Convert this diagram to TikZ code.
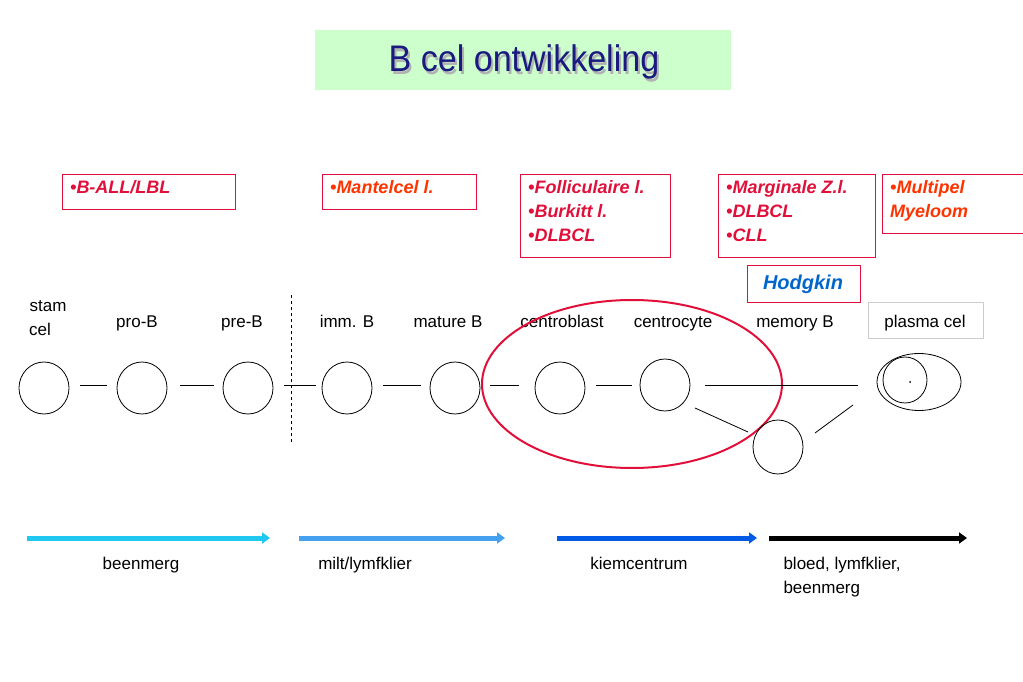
\documentclass[tikz,border=0pt]{standalone}
\usepackage{fontspec}
\setmainfont{Liberation Sans}
\usetikzlibrary{arrows.meta,shapes.geometric}
\definecolor{crim}{HTML}{E0103A}
\definecolor{ored}{HTML}{FF3300}
\definecolor{hblue}{HTML}{0066CC}
\definecolor{navy}{HTML}{1A1A80}
\begin{document}
\begin{tikzpicture}[x=1pt,y=-1pt,
  cell/.style={draw,thick,ellipse,minimum width=50pt,minimum height=52pt,inner sep=0pt},
  dbox/.style={anchor=north west,align=left,font=\fontsize{18}{24}\selectfont\bfseries\itshape,inner sep=0pt},
  lab/.style={font=\fontsize{17}{24}\selectfont,anchor=base},
  con/.style={thick},
  flow/.style={line width=5pt,-{Triangle[length=8pt,width=11pt]}}]
\useasboundingbox (0,0) rectangle (1023,682);
\node[fill=green!20,minimum width=416pt,minimum height=60pt,inner sep=0pt] (title) at (523,60) {};
\node[text=gray!60,font=\fontsize{37}{40}\selectfont,xscale=0.92] at (526,65) {B cel ontwikkeling};
\node[text=navy,font=\fontsize{37}{40}\selectfont,xscale=0.92] (tt) at (524,62) {B cel ontwikkeling};
% disease boxes
\draw[crim,thick] (62,174) rectangle (235,209);
\node[dbox,text=crim] (b1) at (70,180) {•B-ALL/LBL};
\draw[crim,thick] (322,174) rectangle (476,209);
\node[dbox,text=ored] (b2) at (330,180) {•Mantelcel l.};
\draw[crim,thick] (520,174) rectangle (670,257);
\node[dbox,text=crim] (b3) at (528,180) {•Folliculaire l.\\•Burkitt l.\\•DLBCL};
\draw[crim,thick] (718,174) rectangle (875,257);
\node[dbox,text=crim] (b4) at (726,180) {•Marginale Z.l.\\•DLBCL\\•CLL};
\draw[crim,thick] (882,174) rectangle (1030,233);
\node[dbox,text=ored] (b5) at (890,180) {•Multipel\\Myeloom};
\draw[crim,thick] (747,265) rectangle (860,302);
\node[text=hblue,font=\fontsize{20}{22}\selectfont\bfseries\itshape] (hd) at (803,284) {Hodgkin};
\draw[gray!40,thick] (868,302) rectangle (983,338);
% labels
\node[lab] (l0a) at (48,311) {stam};
\node[lab] (l0b) at (40,335) {cel};
\node[lab] (l1) at (137,327) {pro-B};
\node[lab] (l2) at (242,327) {pre-B};
\node[lab] (l3) at (347,327) {imm. B};
\node[lab] (l4) at (448,327) {mature B};
\node[lab] (l5) at (562,327) {centroblast};
\node[lab] (l6) at (673,327) {centrocyte};
\node[lab] (l7) at (795,327) {memory B};
\node[lab] (l8) at (925,327) {plasma cel};
% dashed
\draw[dashed,thick] (291,295) -- (291,443);
% red ellipse
\draw[crim,line width=2pt] (632,384) ellipse [x radius=150,y radius=84];
% cells
\node[cell] (c0) at (44,388) {};
\node[cell] (c1) at (142,388) {};
\node[cell] (c2) at (248,388) {};
\node[cell] (c3) at (347,388) {};
\node[cell] (c4) at (455,388) {};
\node[cell] (c5) at (560,388) {};
\node[cell] (c6) at (665,385) {};
\node[cell,minimum height=54pt] (c7) at (778,447) {};
\node[draw,thick,ellipse,minimum width=84pt,minimum height=57pt,inner sep=0pt] (c8) at (919,382) {};
\node[draw,thick,ellipse,minimum width=44pt,minimum height=46pt,inner sep=0pt] (c8i) at (905,380) {};
\fill (910,382) circle (1pt);
\draw[con] (80,385) -- (107,385);
\draw[con] (180,385) -- (214,385);
\draw[con] (284,385) -- (316,385);
\draw[con] (383,385) -- (421,385);
\draw[con] (490,385) -- (519,385);
\draw[con] (596,385) -- (632,385);
\draw[con] (705,385) -- (858,385);
\draw[con] (695,408) -- (748,432);
\draw[con] (815,433) -- (853,405);
% flows
\draw[flow,color={rgb,255:red,30;green,200;blue,240}] (27,538) -- (270,538);
\draw[flow,color={rgb,255:red,70;green,160;blue,240}] (299,538) -- (505,538);
\draw[flow,color={rgb,255:red,0;green,90;blue,230}] (557,538) -- (757,538);
\draw[flow,color=black] (769,538) -- (967,538);
\node[lab] (f1) at (141,569) {beenmerg};
\node[lab] (f2) at (365,569) {milt/lymfklier};
\node[lab] (f3) at (639,569) {kiemcentrum};
\node[lab,anchor=base west] (f4a) at (780,569) {bloed, lymfklier,};
\node[lab,anchor=base west] (f4b) at (780,593) {beenmerg};
\end{tikzpicture}
\end{document}
